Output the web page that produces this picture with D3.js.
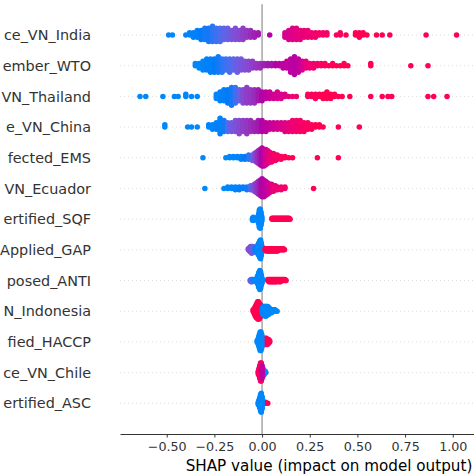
<!DOCTYPE html>
<html>
<head>
<meta charset="utf-8">
<script src="https://cdn.jsdelivr.net/npm/d3@7"></script>
<style>
  body { margin: 0; background: #fff; }
  svg { display: block; font-family: "DejaVu Sans", sans-serif; }
</style>
</head>
<body>
<div id="chart"></div>
<script>
// feature labels, top to bottom (left part is cut off in the original)
var featureNames = ["ce_VN_India", "ember_WTO", "VN_Thailand", "e_VN_China", "fected_EMS",
  "VN_Ecuador", "ertified_SQF", "Applied_GAP", "posed_ANTI", "N_Indonesia",
  "fied_HACCP", "ce_VN_Chile", "ertified_ASC"];

// each entry: [shap value, number of samples, feature value 0..1]
var rowIndia = [[-0.49,1,0],[-0.47,1,0],[-0.40,1,0.02],[-0.38,2,0.03],[-0.36,3,0.05],[-0.34,4,0.05],
  [-0.32,5,0.08],[-0.30,6,0.1],[-0.28,7,0.1],[-0.26,8,0.12],[-0.24,7,0.15],[-0.22,7,0.18],[-0.20,6,0.22],
  [-0.18,6,0.25],[-0.16,5,0.3],[-0.14,6,0.33],[-0.12,5,0.36],[-0.10,6,0.4],[-0.08,4,0.42],[-0.06,4,0.45],
  [-0.04,3,0.48],[-0.02,2,0.5],[0.04,1,0.55],[0.12,3,0.7],[0.14,5,0.72],[0.16,6,0.75],[0.18,6,0.78],
  [0.20,5,0.8],[0.22,4,0.82],[0.24,4,0.84],[0.26,3,0.86],[0.28,3,0.88],[0.30,2,0.9],[0.32,2,0.9],
  [0.34,2,0.92],[0.39,1,0.95],[0.41,2,0.95],[0.44,1,0.96],[0.49,2,1],[0.51,3,1],[0.53,2,1],[0.55,1,1],
  [0.60,1,1],[0.63,1,1],[0.67,1,1],[0.86,1,1],[1.02,1,1]];
var rowWTO = [[-0.35,2,0],[-0.33,3,0],[-0.31,5,0.02],[-0.29,6,0.05],[-0.27,7,0.05],[-0.25,7,0.08],
  [-0.23,8,0.1],[-0.21,7,0.12],[-0.19,6,0.15],[-0.17,7,0.18],[-0.15,6,0.22],[-0.13,7,0.26],[-0.11,6,0.3],
  [-0.09,5,0.33],[-0.07,5,0.36],[-0.05,4,0.4],[-0.03,3,0.43],[-0.01,3,0.45],[0.01,2,0.48],[0.03,2,0.5],
  [0.05,2,0.52],[0.07,2,0.55],[0.09,2,0.58],[0.11,3,0.6],[0.13,4,0.62],[0.15,7,0.6],[0.17,9,0.58],
  [0.19,7,0.62],[0.21,5,0.7],[0.23,4,0.8],[0.25,3,0.85],[0.27,3,0.88],[0.29,2,0.9],[0.31,2,0.92],
  [0.33,2,0.95],[0.35,1,0.95],[0.37,2,0.97],[0.39,1,1],[0.41,1,1],[0.43,2,1],[0.45,1,1],[0.57,2,1],
  [0.78,1,1],[0.87,1,1]];
var rowThailand = [[-0.64,1,0],[-0.61,1,0],[-0.52,1,0],[-0.46,1,0],[-0.44,1,0],[-0.40,2,0],[-0.37,1,0],
  [-0.34,1,0.02],[-0.24,3,0.02],[-0.22,5,0.05],[-0.20,6,0.05],[-0.18,7,0.08],[-0.16,9,0.1],[-0.14,8,0.15],
  [-0.12,6,0.25],[-0.10,7,0.35],[-0.08,8,0.4],[-0.06,7,0.42],[-0.04,7,0.45],[-0.02,6,0.5],[0.0,5,0.55],
  [0.02,4,0.6],[0.04,4,0.65],[0.06,3,0.68],[0.08,4,0.7],[0.10,3,0.72],[0.12,2,0.75],[0.14,1,0.8],
  [0.16,1,0.85],[0.18,1,0.88],[0.24,2,0.95],[0.26,2,0.95],[0.28,3,0.97],[0.30,2,1],[0.32,3,1],[0.34,4,1],
  [0.36,3,1],[0.38,2,1],[0.40,1,1],[0.42,1,1],[0.46,1,1],[0.57,1,1],[0.63,1,1],[0.66,1,1],[0.68,1,1],
  [0.87,1,1],[0.90,1,1],[0.97,1,1]];
var rowChina = [[-0.51,2,0],[-0.39,1,0],[-0.37,1,0],[-0.34,1,0],[-0.28,2,0.02],[-0.26,3,0.03],[-0.24,4,0.05],
  [-0.22,8,0.05],[-0.20,6,0.1],[-0.18,5,0.2],[-0.16,5,0.28],[-0.14,6,0.32],[-0.12,7,0.36],[-0.10,6,0.4],
  [-0.08,7,0.42],[-0.06,6,0.45],[-0.04,5,0.48],[-0.02,6,0.5],[0.0,6,0.55],[0.02,5,0.6],[0.04,4,0.63],
  [0.06,4,0.66],[0.08,4,0.7],[0.10,4,0.72],[0.12,5,0.75],[0.14,5,0.8],[0.16,6,0.85],[0.18,6,0.88],
  [0.20,6,0.9],[0.22,5,0.92],[0.24,4,0.95],[0.26,3,0.97],[0.28,2,1],[0.30,2,1],[0.32,1,1],[0.40,1,1],
  [0.51,1,1]];
var rowEMS = [[-0.31,1,0],[-0.19,1,0],[-0.17,2,0],[-0.15,2,0.02],[-0.13,2,0.03],[-0.11,3,0.05],[-0.09,3,0.08],
  [-0.07,4,0.12],[-0.05,5,0.2],[-0.04,6,0.3],[-0.03,8,0.4],[-0.02,10,0.45],[-0.01,12,0.5],[0.0,14,0.55],
  [0.01,13,0.6],[0.02,12,0.7],[0.03,10,0.75],[0.04,8,0.8],[0.05,7,0.85],[0.06,6,0.88],[0.07,5,0.9],
  [0.08,4,0.92],[0.10,3,0.95],[0.12,2,0.97],[0.14,1,1],[0.16,1,1],[0.29,1,1],[0.40,1,1]];
var rowEcuador = [[-0.30,1,0],[-0.20,1,0],[-0.18,2,0],[-0.16,2,0.02],[-0.14,3,0.03],[-0.12,3,0.05],
  [-0.10,2,0.06],[-0.08,3,0.1],[-0.06,4,0.15],[-0.05,4,0.25],[-0.04,6,0.35],[-0.03,8,0.4],[-0.02,10,0.45],
  [-0.01,12,0.5],[0.0,14,0.55],[0.01,13,0.58],[0.02,11,0.6],[0.03,9,0.65],[0.04,7,0.7],[0.05,6,0.75],
  [0.06,5,0.8],[0.07,4,0.82],[0.08,3,0.85],[0.10,3,0.88],[0.12,2,0.9],[0.27,1,1]];
var rowSQF = [[-0.05,3,0],[-0.046,4,0],[-0.042,3,0],[-0.036,2,0],[-0.028,2,0],[-0.022,4,0],[-0.018,10,0],
  [-0.014,18,0],[-0.01,20,0],[-0.006,14,0],[-0.002,6,0],[0.052,2,1],[0.058,2,1],[0.064,2,1],[0.07,2,1],
  [0.076,2,1],[0.082,2,1],[0.088,2,1],[0.094,2,1],[0.1,2,1],[0.106,2,1],[0.112,2,1],[0.118,2,1],
  [0.124,2,1],[0.13,2,1],[0.136,2,1],[0.142,2,1],[0.147,1,1]];
var rowGAP = [[-0.072,2,0.35],[-0.066,4,0.3],[-0.06,6,0.35],[-0.054,7,0.3],[-0.048,6,0.25],[-0.042,5,0.2],
  [-0.036,4,0.1],[-0.03,5,0.05],[-0.024,8,0],[-0.018,12,0],[-0.012,16,0],[-0.008,18,0],[-0.004,12,0],
  [0.0,6,0],[0.016,2,1],[0.022,3,1],[0.028,3,1],[0.034,3,1],[0.04,3,1],[0.046,3,1],[0.052,3,1],
  [0.058,3,1],[0.064,3,1],[0.07,3,1],[0.076,3,1],[0.082,3,1],[0.088,2,1],[0.094,2,1],[0.1,2,1],
  [0.106,2,1],[0.112,2,1],[0.118,1,1]];
var rowANTI = [[-0.063,1,0],[-0.058,3,0.3],[-0.052,3,0.2],[-0.046,2,0],[-0.038,2,0],[-0.03,3,0],
  [-0.024,8,0],[-0.018,14,0],[-0.012,18,0],[-0.008,16,0],[-0.004,10,0],[0.0,5,0],[0.03,2,1],[0.036,3,1],
  [0.042,3,1],[0.048,3,1],[0.054,3,1],[0.06,3,1],[0.066,3,1],[0.072,3,1],[0.078,3,1],[0.084,2,1],
  [0.09,3,1],[0.096,3,1],[0.102,2,1],[0.108,2,1],[0.114,2,1],[0.12,2,1],[0.126,1,1]];
var rowIndonesia = [[-0.047,2,1],[-0.043,3,1],[-0.039,5,1],[-0.035,7,1],[-0.031,9,1],[-0.027,10,1],
  [-0.023,12,1],[-0.019,12,1],[-0.015,11,1],[-0.011,9,1],[-0.007,8,1],[-0.003,6,1],[0.002,4,0],
  [0.006,5,0],[0.01,6,0],[0.014,7,0],[0.018,7,0],[0.022,7,0],[0.026,6,0],[0.03,6,0],[0.034,5,0],
  [0.038,4,0],[0.044,3,0],[0.05,3,0],[0.056,2,0],[0.062,2,0],[0.068,2,0],[0.074,1,0],[0.079,1,0]];
var rowHACCP = [[0.004,3,1],[0.01,5,1],[0.016,6,1],[0.022,6,1],[0.028,5,1],[0.034,4,1],[0.04,2,1],
  [-0.026,2,0],[-0.022,4,0],[-0.018,8,0],[-0.014,12,0],[-0.01,16,0],[-0.006,16,0],[-0.002,12,0]];
var rowChile = [[0.004,6,0],[0.008,5,0],[0.012,3,0],[0.016,2,0],[0.02,1,0],[-0.02,3,1],[-0.016,6,0.9],
  [-0.012,10,1],[-0.008,14,0.8],[-0.004,14,1],[0.0,10,0.6]];
var rowASC = [[0.006,2,1],[0.012,2,1],[0.018,2,1],[0.024,1,1],[0.03,1,1],[-0.02,3,0],[-0.016,6,0],
  [-0.012,10,0],[-0.008,16,0],[-0.004,18,0],[0.0,12,0]];

var featureRows = [rowIndia, rowWTO, rowThailand, rowChina, rowEMS, rowEcuador, rowSQF,
  rowGAP, rowANTI, rowIndonesia, rowHACCP, rowChile, rowASC];

var xTicks = [-0.5, -0.25, 0, 0.25, 0.5, 0.75, 1.0];
var xTickLabels = ["\u22120.50", "\u22120.25", "0.00", "0.25", "0.50", "0.75", "1.00"];
var xLabel = "SHAP value (impact on model output)";

var width = 474, height = 474;
var nFeat = featureNames.length;

var x = d3.scaleLinear().domain([-0.745, 1.447]).range([120, 538]);
var y = d3.scaleLinear().domain([-1, nFeat]).range([434, 4.3]);

// shap red_blue colormap (lch blend blue -> purple -> red)
function shapColor(t) {
  t = Math.max(0, Math.min(1, t));
  var l = t < 0.5 ? 54 - 28 * t : 40 + 28 * (t - 0.5);
  return d3.hcl(266.93 + 113.39 * t, 70 + 20 * t, l).formatHex();
}

// same stacking as shap's summary plot: 100 bins, alternate up/down
function swarm(groups) {
  var pts = [];
  groups.forEach(function(g) {
    for (var k = 0; k < g[1]; k++) pts.push({v: g[0], f: g[2]});
  });
  var lo = d3.min(pts, function(p) { return p.v; }),
      hi = d3.max(pts, function(p) { return p.v; });
  pts.forEach(function(p, i) {
    p.bin = Math.round(100 * (p.v - lo) / (hi - lo + 1e-8));
    p.i = i;
  });
  var order = pts.slice().sort(function(a, b) { return a.bin - b.bin || a.i - b.i; });
  var layer = 0, last = -1;
  order.forEach(function(p) {
    if (p.bin !== last) layer = 0;
    p.ys = Math.ceil(layer / 2) * ((layer % 2) * 2 - 1);
    layer++;
    last = p.bin;
  });
  var m = d3.max(pts, function(p) { return p.ys + 1; });
  pts.forEach(function(p) { p.ys *= 0.9 * 0.4 / m; });
  return pts;
}

var svg = d3.select("#chart").append("svg")
    .attr("width", width)
    .attr("height", height);

// dotted row lines
svg.append("g").selectAll("line")
  .data(featureNames)
  .enter().append("line")
    .attr("x1", x.range()[0])
    .attr("x2", x.range()[1])
    .attr("y1", function(d, i) { return y(nFeat - 1 - i); })
    .attr("y2", function(d, i) { return y(nFeat - 1 - i); })
    .style("stroke", "#cccccc")
    .style("stroke-width", 0.7)
    .style("stroke-dasharray", "1,3");

// zero line
svg.append("line")
    .attr("x1", x(0)).attr("x2", x(0))
    .attr("y1", y(nFeat)).attr("y2", y(-1))
    .style("stroke", "#999999")
    .style("stroke-width", 1.3);

// points
featureRows.forEach(function(row, i) {
  var pos = nFeat - 1 - i;
  svg.append("g").selectAll("circle")
    .data(swarm(row))
    .enter().append("circle")
      .attr("cx", function(d) { return x(d.v); })
      .attr("cy", function(d) { return y(pos + d.ys); })
      .attr("r", 2.75)
      .style("fill", function(d) { return shapColor(d.f); });
});

// feature labels
svg.append("g").selectAll("text")
  .data(featureNames)
  .enter().append("text")
    .attr("x", 91)
    .attr("y", function(d, i) { return y(nFeat - 1 - i); })
    .attr("dy", "0.36em")
    .attr("text-anchor", "end")
    .style("font-size", "14.4px")
    .style("fill", "#333333")
    .text(function(d) { return d; });

// x axis
var gx = svg.append("g")
    .attr("transform", "translate(0," + y(-1) + ")")
    .call(d3.axisBottom(x)
      .tickValues(xTicks)
      .tickFormat(function(d, i) { return xTickLabels[i]; })
      .tickSize(3.5)
      .tickSizeOuter(0)
      .tickPadding(4));
gx.select(".domain").style("stroke", "#333333").style("stroke-width", 1);
gx.selectAll(".tick line").style("stroke", "#333333");
gx.selectAll(".tick text")
    .style("font-family", "DejaVu Sans, sans-serif")
    .style("font-size", "12.7px")
    .style("fill", "#333333");

svg.append("text")
    .attr("x", 329)
    .attr("y", 471)
    .attr("text-anchor", "middle")
    .style("font-size", "15.2px")
    .style("fill", "#000")
    .text(xLabel);
</script>
</body>
</html>
